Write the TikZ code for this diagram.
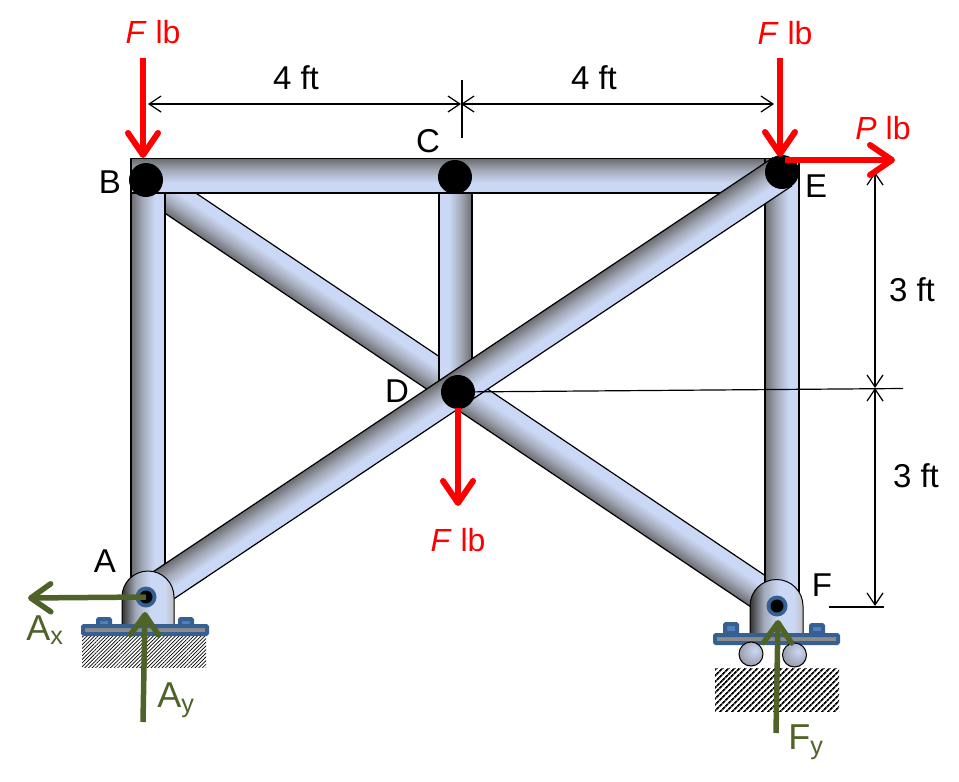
\documentclass[tikz,border=0pt]{standalone}
\usepackage{fontspec}
\setmainfont{Liberation Sans}
\usetikzlibrary{arrows.meta,patterns.meta,calc}
\definecolor{steelblue}{HTML}{366092}
\definecolor{pinblue}{HTML}{4F81BD}
\definecolor{forcegreen}{HTML}{4F6228}
\definecolor{tubelight}{HTML}{CBD8F5}
\definecolor{tubedark}{HTML}{6B6C70}
\definecolor{tubemid}{HTML}{A3A9B8}
\pgfdeclarehorizontalshading{tubeshade}{100bp}{color(0bp)=(tubedark); color(25bp)=(tubedark); color(42bp)=(tubemid); color(60bp)=(tubelight); color(72bp)=(tubelight); color(75bp)=(tubelight); color(100bp)=(tubelight)}
\pgfdeclarehorizontalshading{domeshade}{100bp}{color(0bp)=(black!80!white); color(25bp)=(black!80!white); color(38bp)=(tubemid); color(52bp)=(tubelight); color(66bp)=(tubelight); color(75bp)=(black!25!white); color(100bp)=(black!25!white)}
\pgfdeclareradialshading{rollershade}{\pgfpoint{8bp}{8bp}}{color(0bp)=(tubelight); color(25bp)=(tubemid); color(50bp)=(tubedark); color(100bp)=(tubedark)}
\tikzset{
	tube/.style={draw=black, line width=1.2pt, shading=tubeshade},
	dome/.style={draw=black, line width=1pt, shading=domeshade, shading angle=0},
	label/.style={font=\fontsize{33}{38}\selectfont, text=black, inner sep=0pt},
	redlabel/.style={label, text=red, font=\fontsize{32}{38}\selectfont},
	greenlabel/.style={label, text=forcegreen, font=\fontsize{36}{40}\selectfont},
	joint/.style={fill=black},
	redforce/.style={draw=red, line width=6pt, -{Straight Barb[round, length=22pt, width=30pt, line width=6pt]}},
	greenforce/.style={draw=forcegreen, line width=5.5pt, -{Straight Barb[round, length=20pt, width=28pt, line width=5.5pt]}},
	dimline/.style={line width=1.2pt, {Straight Barb[length=12pt, width=16pt, line width=1.2pt]}-{Straight Barb[length=12pt, width=16pt, line width=1.2pt]}},
	plate/.style={draw=steelblue, fill=gray!90, line width=4pt, rounded corners=1pt},
	bolt/.style={draw=steelblue, fill=pinblue, line width=4pt, rounded corners=1pt},
}
% one member: centre of its one end, angle, length, angle of the shading
\def\member(#1)(#2:#3:#4){\draw[tube, shading angle=#4, transform canvas={shift={(#1)}, rotate=#2}] (0, -17) rectangle (#3, 17);}
\begin{document}
\begin{tikzpicture}[x=1pt, y=-1pt]
	\path[use as bounding box, fill=white] (0, 0) rectangle (959, 782);

	\coordinate (jointA) at (146, 597);
	\coordinate (jointB) at (146, 180);
	\coordinate (jointC) at (455, 177);
	\coordinate (jointD) at (458, 392);
	\coordinate (jointE) at (782, 172);
	\coordinate (jointF) at (777, 606);

	%%%%% members %%%%%
	\member(jointB)(-33.9:762:90);
	\draw[tube, shading angle=180] (439, 193) rectangle (472, 385);
	\draw[tube, shading angle=0] (131, 160) rectangle (165, 600);
	\draw[tube, shading angle=-90] (131, 158.5) rectangle (790, 193);
	\draw[tube, shading angle=0] (765, 158.5) rectangle (799, 600);
	\member(jointA)(33.75:765:-90);

	\fill[joint] (jointB) circle (17);
	\fill[joint] (jointC) circle (17);
	\fill[joint] (jointD) circle (17);
	\fill[joint] (jointE) circle (17);

	%%%%% support at A %%%%%
	\fill[pattern={Lines[angle=45, distance=2.6pt, line width=0.7pt]}] (82, 636) rectangle (206, 667);
	\draw[dome] (122, 624) -- (122, 597) arc (180:360:26) -- (174, 624);
	\draw[bolt] (98, 619) rectangle (110, 627);
	\draw[bolt] (180, 619) rectangle (192, 627);
	\draw[plate] (83, 626) rectangle (207, 634);
	\fill[steelblue] (jointA) circle (10.5);
	\fill[black] (jointA) circle (6.5);

	%%%%% support at F %%%%%
	\fill[pattern={Lines[angle=45, distance=4pt, line width=1.9pt]}] (715, 668) rectangle (839, 711);
	\draw[dome] (750, 633) -- (750, 606) arc (180:360:26.5) -- (803, 633);
	\draw[bolt] (725, 624) rectangle (737, 633);
	\draw[bolt] (811, 625) rectangle (823, 633);
	\draw[plate] (715, 635) rectangle (838, 643);
	\draw[line width=1pt, shading=rollershade] (751, 654) circle (12);
	\draw[line width=1pt, shading=rollershade] (794.5, 655) circle (12);
	\fill[steelblue] (jointF) circle (10.5);
	\fill[black] (jointF) circle (6.5);

	%%%%% dimensions %%%%%
	\coordinate (dimTL) at (148, 104);
	\coordinate (dimTM) at (461, 104);
	\coordinate (dimTR) at (774, 104);
	\coordinate (dimRT) at (875, 172);
	\coordinate (dimRM) at (875, 388);
	\coordinate (dimRB) at (875, 606);
	\draw[dimline] (dimTL) -- (dimTM);
	\draw[dimline] (dimTM) -- (dimTR);
	\draw[dimline] (dimRT) -- (dimRM);
	\draw[dimline] (dimRM) -- (dimRB);
	\draw[line width=1.2pt] (462, 80) -- (462, 138);
	\draw[line width=1.2pt] (jointD) -- (903, 388.5);
	\draw[line width=1.2pt] (829, 607) -- (884, 607);

	%%%%% forces %%%%%
	\coordinate (loadB) at (143, 58);
	\coordinate (loadE) at (780, 58);
	\coordinate (endP) at (895, 160);
	\coordinate (endD) at (458, 506);
	\coordinate (endAx) at (28, 598);
	\coordinate (startAy) at (143, 722);
	\coordinate (startFy) at (776, 733);
	\draw[redforce] (loadB) -- (143, 158);
	\draw[redforce] (loadE) -- (780, 157);
	\draw[redforce] (785, 160) -- (endP);
	\draw[redforce] (458, 408) -- (endD);
	\draw[greenforce] (jointA) -- (endAx);
	\draw[greenforce] (startAy) -- (145, 612);
	\draw[greenforce] (startFy) -- (778, 620);

	%%%%% labels %%%%%
	\node[label] (labA) at (105, 561) {A};
	\node[label] (labB) at (110, 182) {B};
	\node[label] (labC) at (428, 141) {C};
	\node[label] (labD) at (397, 391) {D};
	\node[label] (labE) at (816, 186) {E};
	\node[label] (labF) at (822, 585) {F};
	\node[label] (dimW1) at (296, 78) {4 ft};
	\node[label] (dimW2) at (594, 78) {4 ft};
	\node[label] (dimH1) at (912, 290) {3 ft};
	\node[label] (dimH2) at (916, 476) {3 ft};
	\node[redlabel] (forceB) at (153, 32) {\textit{F} lb};
	\node[redlabel] (forceE) at (785, 33) {\textit{F} lb};
	\node[redlabel] (forceP) at (883, 128) {\textit{P} lb};
	\node[redlabel] (forceD) at (458, 540) {\textit{F} lb};
	\node[greenlabel] (forceAx) at (45, 630) {A\textsubscript{x}};
	\node[greenlabel] (forceAy) at (176, 700) {A\textsubscript{y}};
	\node[greenlabel] (forceFy) at (806, 742) {F\textsubscript{y}};
\end{tikzpicture}
\end{document}
